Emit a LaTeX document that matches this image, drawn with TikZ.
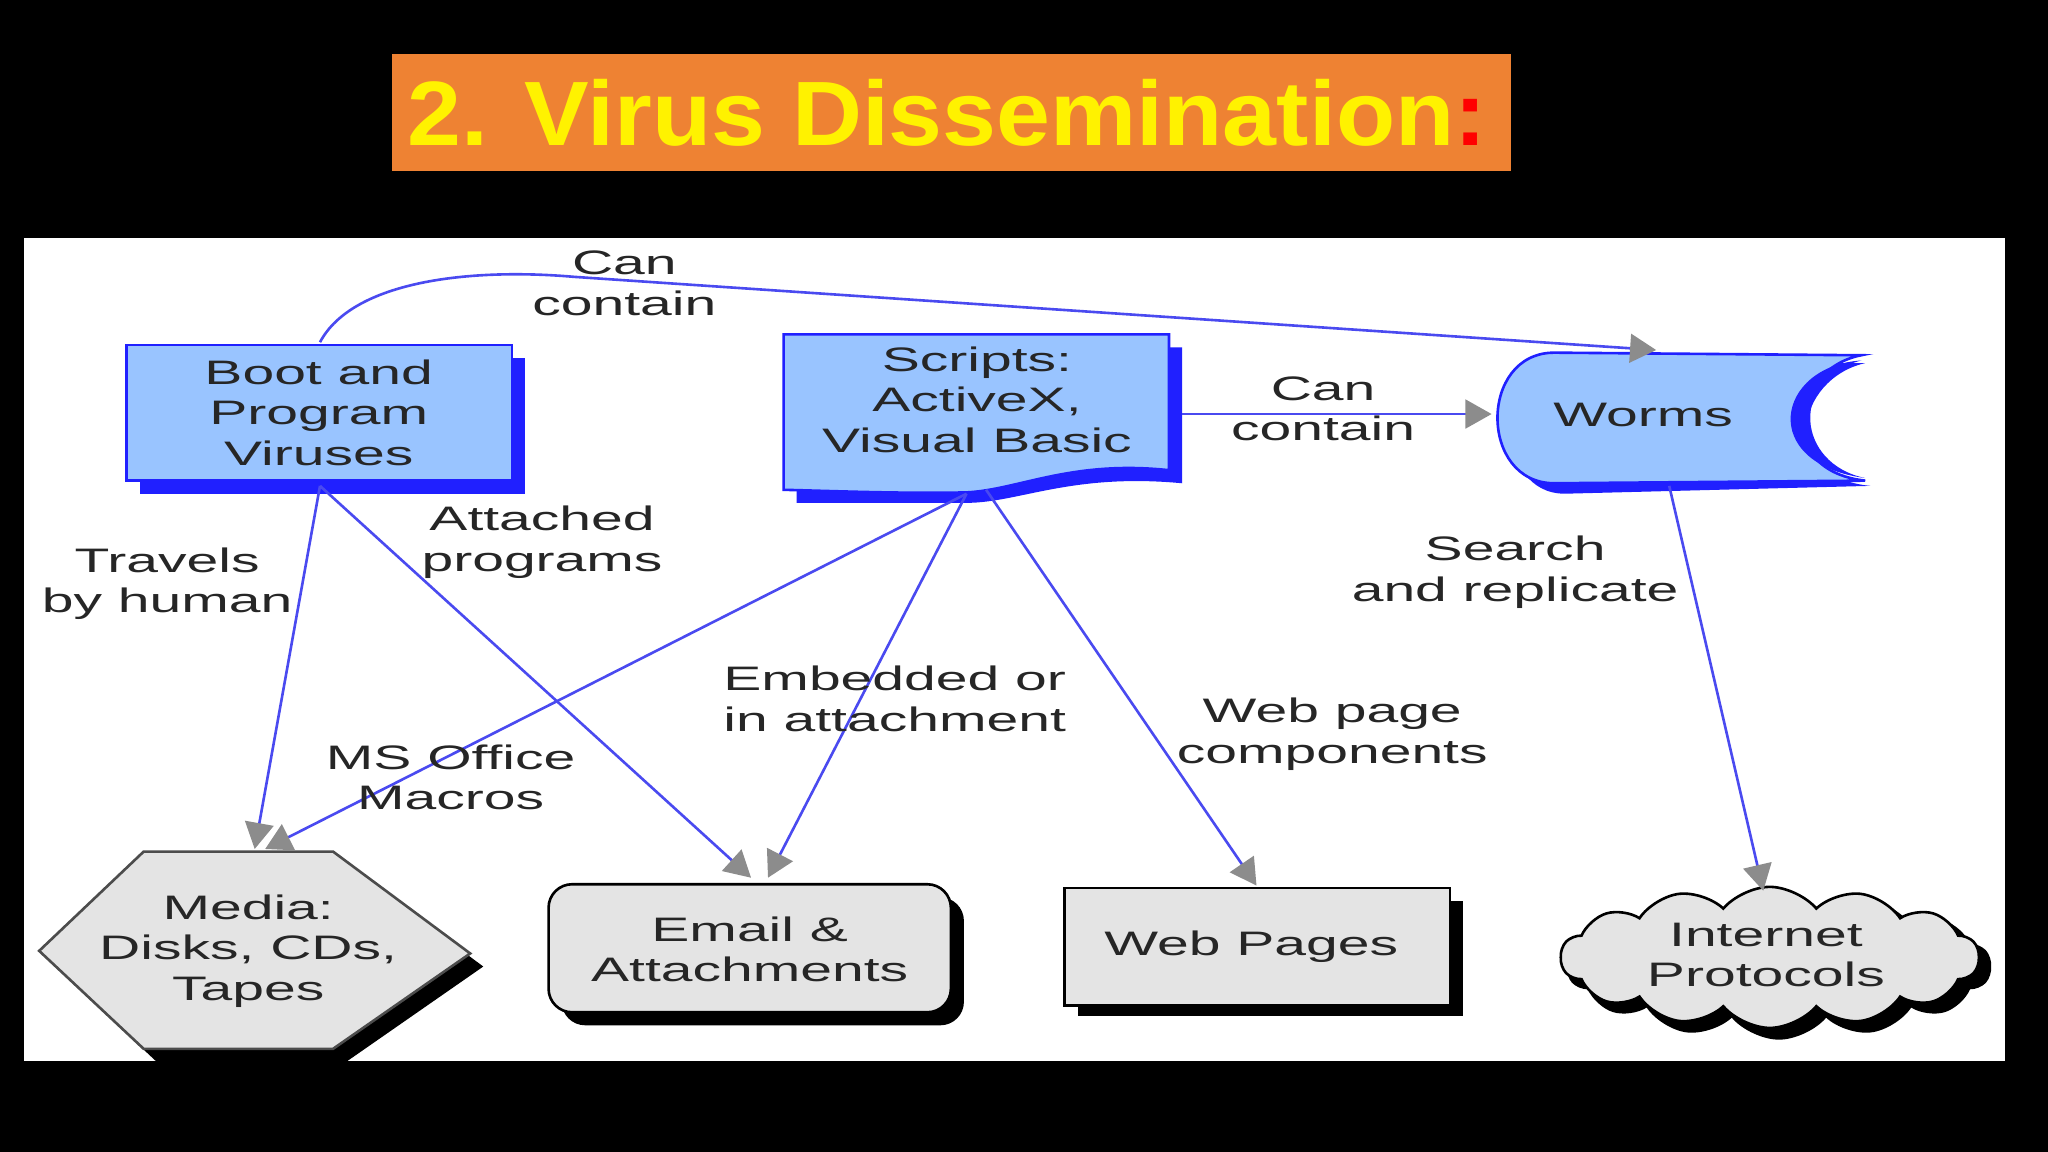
\documentclass[tikz,border=0pt]{standalone}
\usepackage{fontspec}
\setmainfont{Liberation Sans}
\usetikzlibrary{shapes.geometric,shapes.symbols,arrows.meta}
\definecolor{boxblue}{HTML}{99C4FF}
\definecolor{edgeblue}{HTML}{2020FF}
\definecolor{linkblue}{HTML}{4A4AF0}
\definecolor{boxgray}{HTML}{E4E4E4}
\definecolor{titleorange}{HTML}{EE8233}
\definecolor{tipgray}{HTML}{8C8C8C}
\tikzset{
  lbl/.style={font=\fontsize{26}{31}\selectfont, align=center, text=black!85, inner sep=0pt, xscale=1.68},
  link/.style={draw=linkblue, line width=2pt, -{Triangle[length=20pt,width=22pt,color=tipgray]}},
  bluebox/.style={draw=edgeblue, fill=boxblue, line width=2pt},
  graybox/.style={draw=black, fill=boxgray, line width=2pt},
}
\begin{document}
\begin{tikzpicture}[x=1pt,y=-1pt]
\fill[black] (0,0) rectangle (1568,882);
\useasboundingbox (0,0) rectangle (1568,882);
\fill[titleorange] (300,41) rectangle (1157,131);
\node[font=\fontsize{70}{76}\selectfont\bfseries, text=yellow, anchor=west, xscale=1.06, inner sep=0pt] (title) at (312,86) {2. Virus Dissemination\textcolor{red}{:}};
\fill[white] (18,182) rectangle (1535,812);

% Boot box
\fill[edgeblue] (107,274) rectangle (402,378);
\draw[bluebox] (97,264) rectangle (392,368);
\node[lbl] (boot) at (244,316) {Boot and\\Program\\Viruses};

% Scripts box
\fill[edgeblue] (610,266) -- (905,266) -- (905,370) .. controls (820,362) and (780,385) .. (740,385) -- (610,385) -- cycle;
\draw[bluebox] (600,256) -- (895,256) -- (895,360) .. controls (820,352) and (780,375) .. (740,377) .. controls (690,378) and (640,376) .. (600,375) -- cycle;
\node[lbl] (scripts) at (748,306) {Scripts:\\ActiveX,\\Visual Basic};

% Worms
\fill[edgeblue] (1198,278) -- (1428,278) .. controls (1375,290) and (1360,365) .. (1432,372) -- (1198,378) .. controls (1143,378) and (1143,278) .. (1198,278);
\draw[bluebox] (1190,270) -- (1425,272) .. controls (1372,282) and (1357,360) .. (1428,368) -- (1190,370) .. controls (1132,370) and (1132,270) .. (1190,270) -- cycle;
\fill[edgeblue] (1425,276) .. controls (1360,280) and (1345,355) .. (1428,366) .. controls (1375,355) and (1370,290) .. (1425,276);
\node[lbl] (worms) at (1258,318) {Worms};

% Media hexagon
\fill[black] (120,662) -- (265,662) -- (370,740) -- (265,813) -- (120,813) -- (40,738) -- cycle;
\draw[graybox, draw=gray!60!black] (110,652) -- (255,652) -- (360,730) -- (255,803) -- (110,803) -- (30,728) -- cycle;
\node[lbl] (media) at (190,728) {Media:\\Disks, CDs,\\Tapes};

% Email
\fill[black, rounded corners=18pt] (430,687) rectangle (738,785);
\draw[graybox, rounded corners=18pt] (420,677) rectangle (728,775);
\node[lbl] (email) at (574,727) {Email \&\\Attachments};

% Web pages
\fill[black] (825,690) rectangle (1120,778);
\draw[graybox] (815,680) rectangle (1110,770);
\node[lbl] (web) at (958,725) {Web Pages};

% Internet cloud
\node[cloud, cloud puffs=14, cloud puff arc=100, aspect=2.6, minimum width=325pt, minimum height=112pt, fill=black] (inetshadow) at (1362,740) {};
\node[cloud, cloud puffs=14, cloud puff arc=100, aspect=2.6, minimum width=320pt, minimum height=108pt, graybox] (inet) at (1355,733) {};
\node[lbl] (inettext) at (1352,731) {Internet\\Protocols};

% coordinates
\coordinate (bootB) at (245,372);
\coordinate (bootT) at (245,262);
\coordinate (scrB) at (740,378);
\coordinate (scrB2) at (755,375);
\coordinate (scrR) at (905,317);
\coordinate (wormL) at (1142,317);
\coordinate (wormT) at (1268,268);
\coordinate (wormB) at (1278,372);
\coordinate (mediaT) at (195,650);
\coordinate (mediaT2) at (203,650);
\coordinate (emailT) at (575,672);
\coordinate (emailT2) at (588,672);
\coordinate (webT) at (962,678);
\coordinate (inetT) at (1350,682);

\draw[link] (bootB) -- (mediaT);
\draw[link] (bootB) -- (emailT);
\draw[link] (bootT) .. controls (270,215) and (360,205) .. (440,212) -- (wormT);
\draw[link] (scrB) -- (mediaT2);
\draw[link] (scrB) -- (emailT2);
\draw[link] (scrB2) -- (webT);
\draw[link] (scrR) -- (wormL);
\draw[link] (wormB) -- (inetT);

% labels
\node[lbl] (l1) at (478,217) {Can\\contain};
\node[lbl] (l2) at (128,447) {Travels\\by human};
\node[lbl] (l3) at (415,415) {Attached\\programs};
\node[lbl] (l4) at (1013,313) {Can\\contain};
\node[lbl] (l5) at (1160,438) {Search\\and replicate};
\node[lbl] (l6) at (685,535) {Embedded or\\in attachment};
\node[lbl] (l7) at (1020,562) {Web page\\components};
\node[lbl] (l8) at (345,595) {MS Office\\Macros};
\end{tikzpicture}
\end{document}
